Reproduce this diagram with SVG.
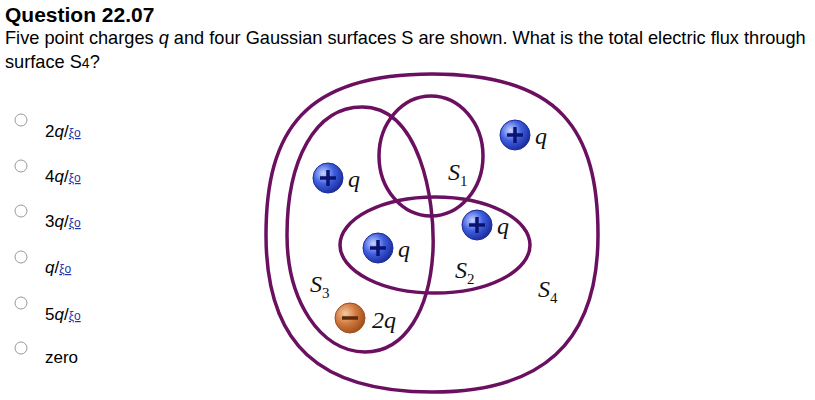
<svg xmlns="http://www.w3.org/2000/svg" width="815" height="400" viewBox="0 0 815 400">
<style>
.t{font-family:"Liberation Sans",Arial,sans-serif;fill:#000}
.s{fill:none;stroke:#6b1060;stroke-width:3.5}
.m{font-family:"Liberation Serif","Times New Roman",serif;font-style:italic;font-size:24px;fill:#111}
.sub{font-size:15px;font-style:normal}
.r{fill:#fff;stroke:#999;stroke-width:1}
.eps{fill:#2233aa;font-size:12px;text-decoration:underline}
</style>
<defs>
<radialGradient id="bp" cx="0.35" cy="0.35" r="0.7"><stop offset="0" stop-color="#c8d4ff"/><stop offset="0.5" stop-color="#3f5fe0"/><stop offset="1" stop-color="#1a2a9a"/></radialGradient>
<radialGradient id="om" cx="0.35" cy="0.35" r="0.7"><stop offset="0" stop-color="#f5c9a0"/><stop offset="0.5" stop-color="#d07a40"/><stop offset="1" stop-color="#a04d1a"/></radialGradient>
<g id="plus"><circle r="15" fill="url(#bp)" stroke="#1a2a9a"/><path d="M-8 0H8M0-8V8" stroke="#0a1470" stroke-width="3.5"/></g>
</defs>
<text class="t" x="5" y="22" font-size="21" font-weight="bold">Question 22.07</text>
<text class="t" x="5" y="44" font-size="18.2">Five point charges <tspan font-style="italic">q</tspan> and four Gaussian surfaces S are shown. What is the total electric flux through</text>
<text class="t" x="5" y="68" font-size="18.2">surface S<tspan font-size="14">4</tspan>?</text>
<g id="options" font-size="17">
<circle class="r" cx="21" cy="120" r="6"/><text class="t" x="45" y="137">2<tspan font-style="italic">q</tspan>/<tspan class="eps">ξo</tspan></text>
<circle class="r" cx="21" cy="166" r="6"/><text class="t" x="45" y="182">4<tspan font-style="italic">q</tspan>/<tspan class="eps">ξo</tspan></text>
<circle class="r" cx="21" cy="211" r="6"/><text class="t" x="45" y="227">3<tspan font-style="italic">q</tspan>/<tspan class="eps">ξo</tspan></text>
<circle class="r" cx="21" cy="257" r="6"/><text class="t" x="45" y="273"><tspan font-style="italic">q</tspan>/<tspan class="eps">ξo</tspan></text>
<circle class="r" cx="21" cy="303" r="6"/><text class="t" x="45" y="320">5<tspan font-style="italic">q</tspan>/<tspan class="eps">ξo</tspan></text>
<circle class="r" cx="21" cy="348" r="6"/><text class="t" x="45" y="363">zero</text>
</g>
<g id="S4"><path class="s" d="M432 74 C560 74 598 130 598 235 C598 345 540 392 432 392 C320 392 266 345 266 235 C266 130 305 74 432 74Z"/><text class="m" x="538" y="297">S<tspan class="sub" dy="6">4</tspan></text></g>
<g id="S1"><ellipse class="s" cx="431" cy="156" rx="52" ry="60"/><text class="m" x="448" y="180">S<tspan class="sub" dy="6">1</tspan></text></g>
<g id="S2"><ellipse class="s" cx="435" cy="245" rx="95" ry="48"/><text class="m" x="455" y="278">S<tspan class="sub" dy="6">2</tspan></text></g>
<g id="S3"><path class="s" d="M362 107 C420 107 435 200 433 250 C430 310 405 352 365 352 C320 352 287 300 287 235 C287 160 315 107 362 107Z"/><text class="m" x="310" y="292">S<tspan class="sub" dy="6">3</tspan></text></g>
<g id="c1"><use href="#plus" x="515" y="135"/><text class="m" x="535" y="144">q</text></g>
<g id="c2"><use href="#plus" x="328" y="178"/><text class="m" x="348" y="187">q</text></g>
<g id="c3"><use href="#plus" x="477" y="225"/><text class="m" x="497" y="234">q</text></g>
<g id="c4"><use href="#plus" x="378" y="248"/><text class="m" x="398" y="257">q</text></g>
<g id="c5"><circle cx="350" cy="318" r="15" fill="url(#om)" stroke="#a04d1a"/><path d="M342 318H358" stroke="#5a2a0a" stroke-width="3.5"/><text class="m" x="372" y="328">2q</text></g>
</svg>
